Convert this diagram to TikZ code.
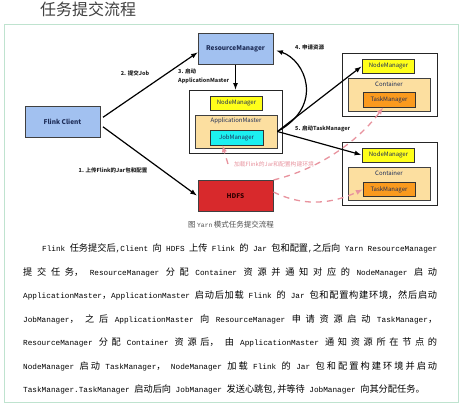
\documentclass[tikz,border=0pt]{standalone}
\usepackage{fontspec}
\setmainfont{Noto Sans CJK SC}
\newfontfamily\cjk{Noto Sans CJK SC}
\newfontfamily\parafont[WordSpace={2.2,0.4,0.5}]{Noto Sans CJK SC}
\newfontfamily\monofont[Scale=0.84, WordSpace={1,0.3,0.5}]{Liberation Mono}
\usetikzlibrary{positioning, arrows}

\definecolor{clientblue}{HTML}{A2C1F0}
\definecolor{nmyellow}{HTML}{FFFF1A}
\definecolor{ctorange}{HTML}{FCDFA0}
\definecolor{tmorange}{HTML}{FA9A1E}
\definecolor{jmcyan}{HTML}{1CF0F0}
\definecolor{hdfsred}{HTML}{D8292C}
\definecolor{txtblue}{HTML}{1E2D58}
\definecolor{loadpink}{HTML}{E8939E}
\definecolor{framegreen}{HTML}{BFE3CF}

\newcommand\en[1]{{\monofont #1}}

\begin{document}
\begin{tikzpicture}[x=1pt, y=-1pt,
  bluebox/.style={draw=black!75, line width=1pt, fill=clientblue, minimum width=75pt, minimum height=31pt, font=\fontsize{6.5}{7}\selectfont\bfseries, text=txtblue},
  host/.style={draw=black!85, line width=1pt, fill=white, minimum width=95pt, minimum height=63pt},
  nmbox/.style={draw=black!80, line width=0.9pt, fill=nmyellow, minimum width=52pt, minimum height=14pt, inner sep=0pt, font=\fontsize{6}{7}\selectfont, text=txtblue},
  ctbox/.style={draw=black!75, line width=0.9pt, fill=ctorange, minimum width=82pt, minimum height=33pt, inner sep=0pt},
  tmbox/.style={draw=black!80, line width=0.9pt, fill=tmorange, minimum width=52pt, minimum height=14.5pt, inner sep=0pt, font=\fontsize{6}{7}\selectfont, text=txtblue},
  jmbox/.style={draw=black!80, line width=0.9pt, fill=jmcyan, minimum width=53pt, minimum height=15pt, inner sep=0pt, font=\fontsize{6}{7}\selectfont, text=txtblue},
  boxlbl/.style={inner sep=0pt, font=\fontsize{6}{7}\selectfont, text=txtblue},
  lbl/.style={inner sep=1pt, font=\fontsize{5.5}{9}\selectfont\bfseries, text=black!85},
  arr/.style={-latex, line width=1.2pt, black},
  loadarr/.style={-latex, line width=1.3pt, loadpink, dash pattern=on 6pt off 5pt}]

  \useasboundingbox (0,0) rectangle (474,407);
  \fill[white] (0,0) rectangle (474,407);

  % title and frame
  \node[anchor=west, inner sep=0pt, font=\fontsize{16}{16}\selectfont, text=black!75] (title) at (40,9) {任务提交流程};
  \draw[framegreen, line width=1pt] (4,24) rectangle (458,402);

  % client, resource manager, hdfs
  \node[bluebox] (client) at (62.5,122) {Flink Client};
  \node[bluebox] (rm) at (235.5,48.5) {ResourceManager};
  \node[bluebox, fill=hdfsred, text=black!80!red] (hdfs) at (235.5,196) {HDFS};

  % node with the application master
  \node[host, minimum width=93pt] (amhost) at (235.5,121.5) {};
  \node[nmbox] (nm0) at (236.5,103) {NodeManager};
  \node[ctbox] (am) at (236,131.5) {};
  \node[boxlbl] (amlbl) at (236,121) {ApplicationMaster};
  \node[jmbox] (jm) at (236.5,137.5) {JobManager};

  % task manager nodes
  \node[host] (host1) at (389.5,84.5) {};
  \node[nmbox] (nm1) at (388.5,66) {NodeManager};
  \node[ctbox] (ct1) at (389,94.5) {};
  \node[boxlbl] (ctlbl1) at (389,84) {Container};
  \node[tmbox] (tm1) at (389,100) {TaskManager};

  \node[host] (host2) at (389.5,173.5) {};
  \node[nmbox] (nm2) at (388.5,155) {NodeManager};
  \node[ctbox] (ct2) at (389,183.5) {};
  \node[boxlbl] (ctlbl2) at (389,173) {Container};
  \node[tmbox] (tm2) at (389,189.5) {TaskManager};

  % steps
  \draw[arr, shorten <=3pt] ([yshift=3pt]client.east) -- ([yshift=-4pt]rm.west);
  \draw[arr, shorten <=3pt, shorten >=1pt] ([yshift=-3pt]client.east) -- (hdfs.west);
  \draw[arr] (rm.south) -- (amhost.north);
  \draw[arr] (am.east) .. controls (325,105) and (305,60) .. ([yshift=-2pt, xshift=3pt]rm.east);
  \draw[arr, shorten >=1pt] (am.east) -- (nm1.west);
  \draw[arr, shorten >=1pt] (am.east) -- (nm2.west);

  \node[lbl] (l1) at (113,170) {1. 上传Flink的Jar包和配置};
  \node[lbl] (l2) at (135,73) {2. 提交Job};
  \node[lbl, anchor=north west, align=left] (l3) at (177,68) {3. 启动\\ApplicationMaster};
  \node[lbl, anchor=west] (l4) at (294,47) {4. 申请资源};
  \node[lbl, anchor=west] (l5) at (294,129) {5. 启动TaskManager};

  % loading jar and config
  \draw[loadarr] (hdfs.north east) .. controls (330,166) and (365,132) .. ([xshift=-6pt]tm1.south);
  \draw[loadarr] ([yshift=4pt]hdfs.east) .. controls (310,210) and (340,200) .. (tm2.west);
  \draw[loadarr] (228,164) -- ([xshift=-14pt]jm.south);
  \node[inner sep=1pt, font=\fontsize{5.8}{7}\selectfont, text=loadpink] (loadlbl) at (274,164) {加载Flink的Jar和配置构建环境};

  % caption and text
  \node[inner sep=0pt, font=\fontsize{7.5}{8}\selectfont, text=black!70] (caption) at (231,225) {图 \en{Yarn} 模式任务提交流程};
  \node[anchor=north west, inner sep=0pt, text width=414pt, align=justify, text=black, font=\parafont\fontsize{9.2}{23.5}\selectfont] (para) at (23,243.5) {%
    \XeTeXlinebreaklocale "zh"\XeTeXlinebreakskip=0pt plus 1pt\tolerance=10000\hbadness=10000%
    \hspace*{19pt}\en{Flink} 任务提交后\en{,Client} 向 \en{HDFS} 上传 \en{Flink} 的 \en{Jar} 包和配置\en{,}之后向 \en{Yarn ResourceManager}\linebreak
    提交任务， \en{ResourceManager} 分配 \en{Container} 资源并通知对应的 \en{NodeManager} 启动\linebreak
    \en{ApplicationMaster}，\en{ApplicationMaster} 启动后加载 \en{Flink} 的 \en{Jar} 包和配置构建环境，然后启动\linebreak
    \en{JobManager}， 之后 \en{ApplicationMaster} 向 \en{ResourceManager} 申请资源启动 \en{TaskManager}，\linebreak
    \en{ResourceManager} 分配 \en{Container} 资源后， 由 \en{ApplicationMaster} 通知资源所在节点的\linebreak
    \en{NodeManager} 启动 \en{TaskManager}， \en{NodeManager} 加载 \en{Flink} 的 \en{Jar} 包和配置构建环境并启动\linebreak
    \en{TaskManager.TaskManager} 启动后向 \en{JobManager} 发送心跳包\en{,}并等待 \en{JobManager} 向其分配任务。};
\end{tikzpicture}
\end{document}
